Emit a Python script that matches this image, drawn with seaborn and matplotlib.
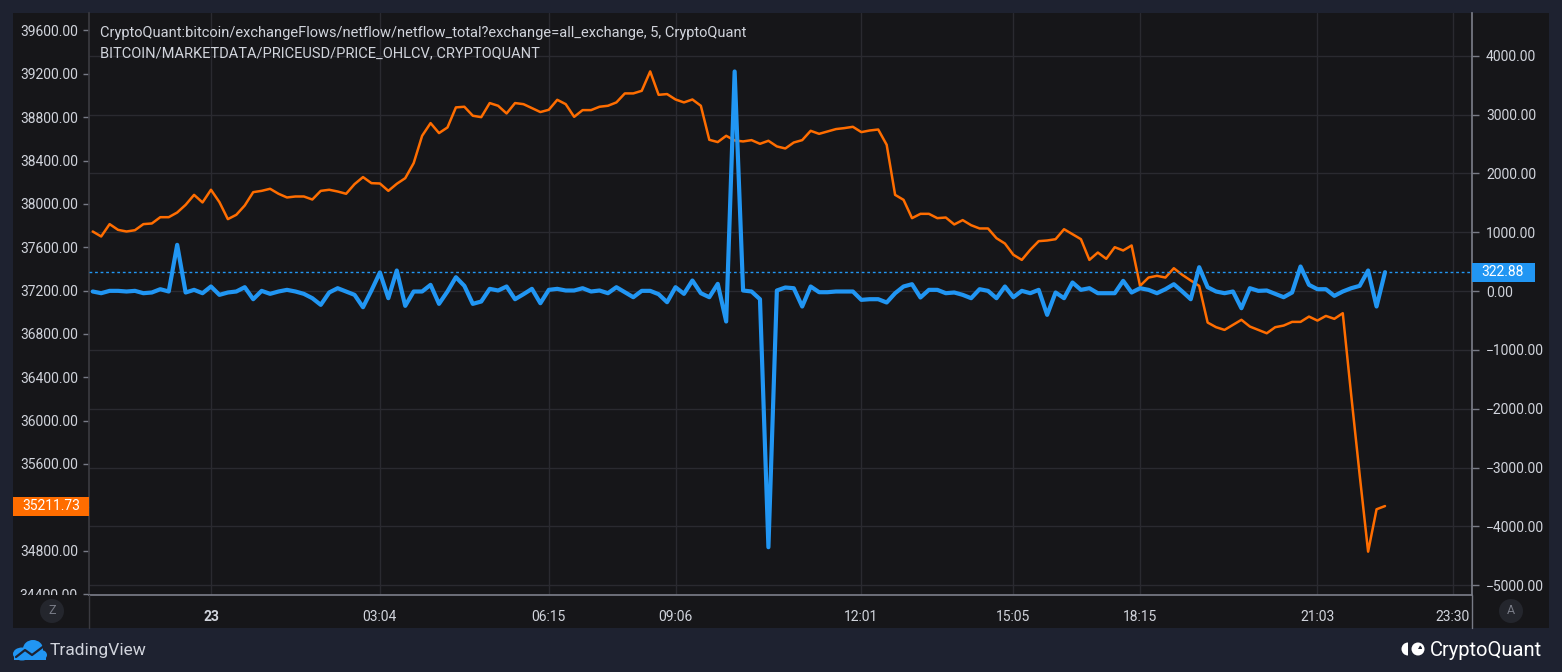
import matplotlib
matplotlib.use('Agg')
import matplotlib.pyplot as plt
import matplotlib.transforms as mtransforms
from matplotlib.patches import Rectangle, Circle, Wedge, Ellipse
from matplotlib.lines import Line2D
import pandas as pd
import seaborn as sns

# ---- data (one point per bar) ----
price = [37745, 37699, 37813, 37760, 37745, 37757, 37813, 37819, 37877, 37877,
         37920, 37991, 38083, 38013, 38130, 38016, 37859, 37899, 37985, 38108,
         38120, 38139, 38093, 38059, 38068, 38068, 38040, 38120, 38130, 38114,
         38093, 38182, 38247, 38191, 38188, 38120, 38185, 38237, 38376, 38628,
         38745, 38653, 38705, 38890, 38896, 38813, 38800, 38930, 38905, 38834,
         38930, 38920, 38883, 38847, 38868, 38960, 38920, 38803, 38865, 38865,
         38896, 38905, 38936, 39019, 39019, 39043, 39222, 39006, 39013, 38963,
         38936, 38963, 38905, 38591, 38570, 38628, 38585, 38576, 38588, 38554,
         38582, 38530, 38511, 38566, 38588, 38674, 38646, 38668, 38690, 38699,
         38711, 38662, 38677, 38686, 38545, 38083, 38037, 37868, 37908, 37908,
         37868, 37874, 37810, 37850, 37803, 37773, 37773, 37683, 37634, 37530,
         37483, 37576, 37656, 37662, 37674, 37766, 37720, 37674, 37483, 37551,
         37493, 37600, 37570, 37616, 37243, 37320, 37336, 37320, 37406, 37345,
         37293, 37243, 36905, 36862, 36837, 36883, 36930, 36868, 36837, 36806,
         36862, 36877, 36911, 36911, 36960, 36923, 36966, 36939, 36991, 36234,
         35499, 34791, 35182, 35211.73]

netflow = [-6, -35, 5, 5, -6, 5, -35, -23, 33, -6,
           787, -23, 22, -35, 79, -63, -23, -6, 67, -137,
           5, -46, -6, 22, -6, -46, -120, -233, -23, 50,
           -6, -63, -273, 11, 317, -120, 351, -250, -6, -6,
           107, -216, -6, 237, 90, -216, -176, 39, 11, 79,
           -137, -52, 39, -205, 22, 39, 11, 11, 50, -6,
           11, -35, 67, -18, -103, 5, 5, -52, -188, 67,
           -46, 181, -35, -103, 124, -516, 3734, 11, -6, -137,
           -4353, 11, 62, 50, -261, 79, -18, -18, -6, -6,
           -6, -148, -137, -137, -193, -35, 79, 118, -108, 22,
           22, -35, -23, -63, -120, 33, 5, -120, 79, -103,
           5, -35, 22, -403, -23, -120, 147, 22, 50, -35,
           -35, -35, 175, -23, 50, 22, -35, 33, 118, -6,
           -137, 407, 67, -6, -35, -6, -290, 50, 5, 11,
           -46, -103, -23, 419, 107, 33, 33, -80, -6, 50,
           90, 351, -261, 322.88]

time_tick_bars = [14, 34, 54, 69, 91, 109, 124, 145, 161]
time_tick_labels = ['23', '03:04', '06:15', '09:06', '12:01', '15:05', '18:15', '21:03', '23:30']
price_ticks = list(range(34400, 39601, 400))
flow_ticks = list(range(-5000, 4001, 1000))

title_1 = 'CryptoQuant:bitcoin/exchangeFlows/netflow/netflow_total?exchange=all_exchange, 5, CryptoQuant'
title_2 = 'BITCOIN/MARKETDATA/PRICEUSD/PRICE_OHLCV, CRYPTOQUANT'

# ---- colours ----
BG = '#161619'
FRAME = '#1e2230'
GRID = '#2a2a30'
TXT = '#d1d4dc'
AXLINE = '#787b86'
ORANGE = '#ff6d00'
BLUE = '#2196f3'

sns.set_theme(style='dark')
plt.rcParams['font.family'] = ['Roboto', 'DejaVu Sans']

df = pd.DataFrame({'bar': range(len(price)), 'price': price, 'netflow': netflow})

W, H = 1562, 672
fig = plt.figure(figsize=(W / 100, H / 100), dpi=100, facecolor=FRAME)
PX = mtransforms.Affine2D().scale(1 / W, -1 / H).translate(0, 1) + fig.transFigure

# dark chart panel inside the navy frame
fig.add_artist(Rectangle((13, 13), 1536, 615, transform=PX, facecolor=BG,
                         edgecolor='none', zorder=-10))

ax = fig.add_axes([89 / W, 1 - 595 / H, (1472 - 89) / W, (595 - 13) / H])
ax.set_facecolor(BG)
sns.lineplot(data=df, x='bar', y='price', ax=ax, color=ORANGE, lw=1.8, zorder=3)
ax2 = ax.twinx()
sns.lineplot(data=df, x='bar', y='netflow', ax=ax2, color=BLUE, lw=3, zorder=3)

ax.set_xlim(-0.44, 163.3)
ax.set_ylim(34391, 39761)
ax2.set_ylim(-5165, 4728)

# horizontal grid follows the right scale but sits under the price line
hblend = mtransforms.blended_transform_factory(ax.transAxes, ax2.transData)
for v in flow_ticks:
    ax.add_line(Line2D([0, 1], [v, v], transform=hblend, color=GRID, lw=1, zorder=1))
ax.xaxis.grid(True, color=GRID, lw=1)
ax.yaxis.grid(False)
ax2.grid(False)

ax.set_xticks(time_tick_bars)
ax.set_xticklabels(time_tick_labels)
ax.get_xticklabels()[0].set_fontweight('bold')
ax.set_yticks(price_ticks)
ax.set_yticklabels([f'{v:.2f}' for v in price_ticks])
ax2.set_yticks(flow_ticks)
ax2.set_yticklabels([f'{v:.2f}'.replace('-', '\u2212') for v in flow_ticks])

ax.tick_params(axis='x', length=4, width=1, color=AXLINE, labelcolor=TXT, labelsize=10, pad=7)
ax.tick_params(axis='y', length=4, width=1, color=AXLINE, labelcolor=TXT, labelsize=10, pad=4)
ax2.tick_params(axis='y', length=5, width=1, color=AXLINE, labelcolor=TXT, labelsize=10, pad=5)

clip = mtransforms.TransformedBbox(mtransforms.Bbox([[0, 1 - 595 / H], [1, 1]]), fig.transFigure)
for lab in ax.get_yticklabels():
    lab.set_clip_box(clip)
    lab.set_clip_on(True)

for a in (ax, ax2):
    a.set_xlabel('')
    a.set_ylabel('')
    for s in a.spines.values():
        s.set_visible(False)
ax.spines['bottom'].set_visible(True)
ax.spines['bottom'].set_color(AXLINE)
ax.spines['left'].set_visible(True)
ax.spines['left'].set_color('#3a3a40')
ax2.spines['right'].set_visible(True)
ax2.spines['right'].set_color(AXLINE)

# spines continue through the time-axis strip
fig.add_artist(Line2D([89, 89], [595, 628], transform=PX, color='#3a3a40', lw=1))
fig.add_artist(Line2D([1472, 1472], [595, 628], transform=PX, color=AXLINE, lw=1))

# last-value line and price labels
ax2.axhline(netflow[-1], color=BLUE, lw=1, ls=(0, (2, 2)), zorder=2)
fx_dy = mtransforms.blended_transform_factory(fig.transFigure, ax.transData)
fx_dy2 = mtransforms.blended_transform_factory(fig.transFigure, ax2.transData)
dy1 = (39761 - 34391) / 582 * 9.5
dy2 = (4728 + 5165) / 582 * 9.5
ax.add_patch(Rectangle((13 / W, price[-1] - dy1), 76 / W, 2 * dy1, transform=fx_dy,
                       facecolor=ORANGE, edgecolor='none', clip_on=False, zorder=5))
ax.text(51 / W, price[-1], f'{price[-1]:.2f}', transform=fx_dy, color='white', size=10,
        ha='center', va='center', clip_on=False, zorder=6)
ax2.add_patch(Rectangle((1472 / W, netflow[-1] - dy2), 63 / W, 2 * dy2, transform=fx_dy2,
                        facecolor=BLUE, edgecolor='none', clip_on=False, zorder=5))
ax2.text(1503 / W, netflow[-1], f'{netflow[-1]:.2f}', transform=fx_dy2, color='white', size=10,
         ha='center', va='center', clip_on=False, zorder=6)

# legend-style titles
fig.text(100, 33, title_1, transform=PX, color=TXT, size=10.5, va='center')
fig.text(100, 53, title_2, transform=PX, color=TXT, size=10.5, va='center')

# Z / A buttons
for cx, ch in ((52, 'Z'), (1511, 'A')):
    fig.add_artist(Circle((cx, 611), 12, transform=PX, facecolor='#24262d', edgecolor='none'))
    fig.text(cx, 611, ch, transform=PX, color=AXLINE, size=9, ha='center', va='center')

# footer: TradingView
for (cx, cy, w, h) in ((22, 654, 18, 13), (33, 649, 20, 18), (41, 655, 12, 10)):
    fig.add_artist(Ellipse((cx, cy), w, h, transform=PX, facecolor=BLUE, edgecolor='none'))
fig.add_artist(Rectangle((14, 654), 32, 6, transform=PX, facecolor=BLUE, edgecolor='none'))
fig.add_artist(Line2D([16, 25, 32, 44], [657, 650, 655, 646], transform=PX, color=FRAME, lw=1.6))
fig.text(50, 651, 'TradingView', transform=PX, color=TXT, size=12.5, va='center')

# footer: CryptoQuant
fig.add_artist(Wedge((1408, 649), 6.5, 90, 270, transform=PX, facecolor='white', edgecolor='none'))
fig.add_artist(Circle((1418, 649), 6.5, transform=PX, facecolor='white', edgecolor='none'))
fig.add_artist(Wedge((1418, 649), 4, 300, 360, transform=PX, facecolor=FRAME, edgecolor='none'))
fig.text(1430, 650, 'CryptoQuant', transform=PX, color='white', size=14.5, va='center')

fig.savefig('out.png', dpi=100, facecolor=FRAME)
